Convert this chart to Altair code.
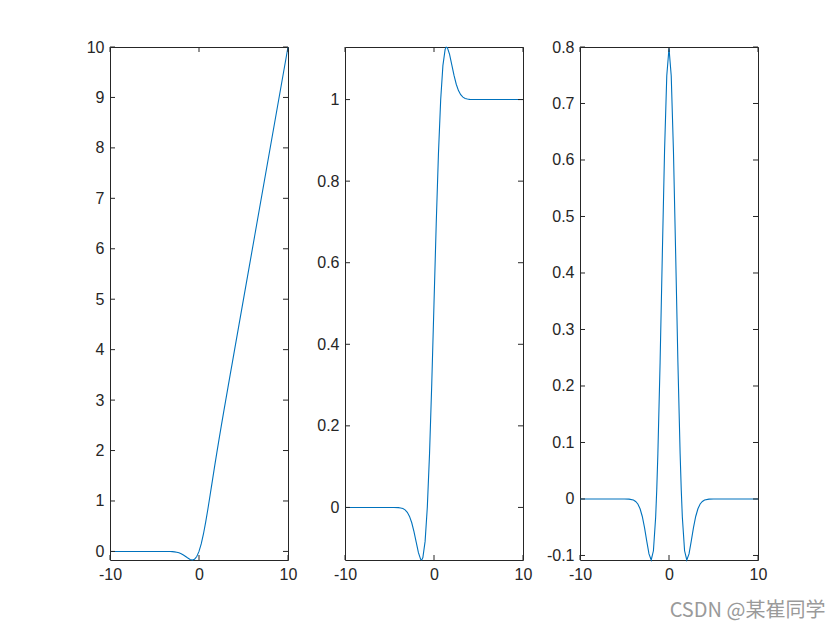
import altair as alt
import pandas as pd

# sample positions
x_vals = [-10, -5, -4.5, -4, -3.75, -3.5, -3.25, -3, -2.75, -2.5, -2.25, -2,
          -1.75, -1.5, -1.375, -1.25, -1, -0.75, -0.5, -0.25, 0, 0.25, 0.5,
          0.75, 1, 1.25, 1.375, 1.5, 1.75, 2, 2.25, 2.5, 2.75, 3, 3.25, 3.5,
          3.75, 4, 4.5, 5, 10]

# left panel
curve_f = [0, 0, -0.00001, -0.00013, -0.00033, -0.00082, -0.00188, -0.00405,
           -0.00820, -0.01553, -0.02750, -0.04550, -0.07010, -0.10021, -0.11628,
           -0.13206, -0.15866, -0.16997, -0.15427, -0.10032, 0, 0.14968,
           0.34573, 0.58003, 0.84134, 1.11794, 1.25872, 1.39979, 1.67990,
           1.95450, 2.22250, 2.48448, 2.74180, 2.99595, 3.24813, 3.49918,
           3.74967, 3.99987, 4.49999, 5.0, 10.0]

# middle panel
curve_d1 = [0, 0, -0.0001, -0.0005, -0.0012, -0.0028, -0.0060, -0.0119,
            -0.0220, -0.0376, -0.0592, -0.0852, -0.1109, -0.1275, -0.1286,
            -0.1227, -0.0833, 0.0008, 0.1325, 0.3046, 0.5, 0.6954, 0.8675,
            0.9992, 1.0833, 1.1227, 1.1286, 1.1275, 1.1109, 1.0852, 1.0592,
            1.0376, 1.0220, 1.0119, 1.0060, 1.0028, 1.0012, 1.0005, 1.0001,
            1.0, 1.0]

# right panel
curve_d2 = [0, 0, -0.0003, -0.0019, -0.0043, -0.0089, -0.0174, -0.0310,
            -0.0506, -0.0745, -0.0972, -0.1080, -0.0917, -0.0324, 0.0170,
            0.0799, 0.2420, 0.4329, 0.6161, 0.7492, 0.7979, 0.7492, 0.6161,
            0.4329, 0.2420, 0.0799, 0.0170, -0.0324, -0.0917, -0.1080,
            -0.0972, -0.0745, -0.0506, -0.0310, -0.0174, -0.0089, -0.0043,
            -0.0019, -0.0003, 0, 0]

x_ticks = [-10, 0, 10]
y1_ticks = [0, 1, 2, 3, 4, 5, 6, 7, 8, 9, 10]
y2_ticks = [0, 0.2, 0.4, 0.6, 0.8, 1]
y3_ticks = [-0.1, 0, 0.1, 0.2, 0.3, 0.4, 0.5, 0.6, 0.7, 0.8]
y1_domain = [-0.17, 10]
y2_domain = [-0.1289, 1.1289]
y3_domain = [-0.108, 0.8]

W, H = 178, 513
TICK = 5
AX = "#262626"
LINE = "#0072BD"
FONT = "Liberation Sans"
FS = 16


def panel(yvals, ydom, yticks):
    df = pd.DataFrame({"x": x_vals, "y": yvals})
    xs = alt.Scale(domain=[-10, 10], nice=False, zero=False)
    ys = alt.Scale(domain=ydom, nice=False, zero=False)
    xaxis = alt.Axis(values=x_ticks, ticks=False, tickSize=0, domain=False,
                     grid=False, title=None, labelExpr="'' + datum.value",
                     labelPadding=6, labelFontSize=FS, labelColor=AX,
                     labelFont=FONT, labelFlush=False, labelOverlap=False)
    yaxis = alt.Axis(values=yticks, ticks=False, tickSize=0, domain=False,
                     grid=False, title=None, labelExpr="'' + datum.value",
                     labelPadding=6, labelFontSize=FS, labelColor=AX,
                     labelFont=FONT, labelFlush=False, labelOverlap=False)
    line = alt.Chart(df).mark_line(color=LINE, strokeWidth=1.1).encode(
        x=alt.X("x:Q", scale=xs, axis=xaxis),
        y=alt.Y("y:Q", scale=ys, axis=yaxis),
    )
    ytdf = pd.DataFrame({"y": yticks})
    xtdf = pd.DataFrame({"x": x_ticks})
    lt = alt.Chart(ytdf).mark_rule(color=AX, strokeWidth=1).encode(
        y=alt.Y("y:Q", scale=ys, axis=yaxis), x=alt.value(0), x2=alt.value(TICK))
    rt = alt.Chart(ytdf).mark_rule(color=AX, strokeWidth=1).encode(
        y=alt.Y("y:Q", scale=ys, axis=yaxis), x=alt.value(W - TICK), x2=alt.value(W))
    bt = alt.Chart(xtdf).mark_rule(color=AX, strokeWidth=1).encode(
        x=alt.X("x:Q", scale=xs, axis=xaxis), y=alt.value(H - TICK), y2=alt.value(H))
    tt = alt.Chart(xtdf).mark_rule(color=AX, strokeWidth=1).encode(
        x=alt.X("x:Q", scale=xs, axis=xaxis), y=alt.value(0), y2=alt.value(TICK))
    return alt.layer(line, lt, rt, bt, tt).properties(width=W, height=H)


p1 = panel(curve_f, y1_domain, y1_ticks)
p2 = panel(curve_d1, y2_domain, y2_ticks)
p3 = panel(curve_d2, y3_domain, y3_ticks)

chart = alt.hconcat(p1, p2, p3, spacing=57, bounds="flush").properties(
    padding={"left": 77, "top": 30, "right": 2, "bottom": 2},
    title=alt.TitleParams(
        text="CSDN @某崔同学", orient="bottom", anchor="end",
        font="Noto Sans CJK SC", fontSize=20, fontWeight="normal",
        color="#9a9a9a", dx=58, offset=18),
).configure_view(stroke=AX, strokeWidth=1)

chart.save("out.html", embed_options={"renderer": "svg", "actions": False})
